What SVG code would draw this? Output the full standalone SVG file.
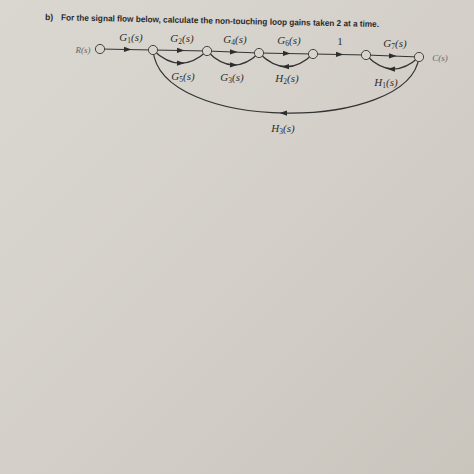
<svg xmlns="http://www.w3.org/2000/svg" width="474" height="474" viewBox="0 0 474 474">
<defs>
<linearGradient id="bg" x1="0" y1="0" x2="1" y2="1">
<stop offset="0" stop-color="#dad7d1"/>
<stop offset="0.5" stop-color="#d4d0c9"/>
<stop offset="1" stop-color="#c9c4bc"/>
</linearGradient>
<path id="ah" d="M-4,-2.6 L3.5,0 L-4,2.6 z" fill="#2e2e2e"/>
</defs>
<style>
.e{fill:none;stroke:#333;stroke-width:1.2}
.n{fill:#d8d4cd;stroke:#444;stroke-width:1}
.l{font-family:"Liberation Serif",serif;font-style:italic;font-size:11px;fill:#2e2e2e;text-anchor:middle}
.io{font-family:"Liberation Serif",serif;font-style:italic;font-size:9px;fill:#666;text-anchor:middle}
.t{font-family:"Liberation Sans",sans-serif;font-weight:bold;font-size:8.6px;fill:#2a2a2a}
.sb{font-style:normal;font-size:7.5px}
</style>
<rect width="474" height="474" fill="url(#bg)"/>
<g transform="rotate(1.2 45 20)">
<text class="t" x="45" y="20">b)</text>
<text class="t" x="61" y="20" textLength="318" lengthAdjust="spacingAndGlyphs">For the signal flow below, calculate the non-touching loop gains taken 2 at a time.</text>
</g>
<g id="connectors">
<path class="e" d="M100,49 L153,50 L207,51 L259,53 L313,54 L366,55 L419,57"/>
<path class="e" d="M153,50 Q180,76 207,51"/>
<path class="e" d="M207,51 Q233,78 259,53"/>
<path class="e" d="M313,54 Q286,80 259,53"/>
<path class="e" d="M419,57 Q392,82 366,55"/>
<path class="e" d="M419,57 C410,133 160,133 153,50"/>
<use href="#ah" transform="translate(128,49.5) rotate(1.1)"/>
<use href="#ah" transform="translate(181,50.5) rotate(1.1)"/>
<use href="#ah" transform="translate(234,52) rotate(2)"/>
<use href="#ah" transform="translate(287,53.5) rotate(1.1)"/>
<use href="#ah" transform="translate(340,54.5) rotate(1.1)"/>
<use href="#ah" transform="translate(393,56) rotate(2)"/>
<use href="#ah" transform="translate(181,63.2) rotate(1)"/>
<use href="#ah" transform="translate(234,65) rotate(2)"/>
<use href="#ah" transform="translate(285,66.7) rotate(180)"/>
<use href="#ah" transform="translate(391,69) rotate(182)"/>
<use href="#ah" transform="translate(283,113.1) rotate(180)"/>
</g>
<g id="n1"><circle class="n" cx="100" cy="49" r="4.6"/><text class="io" x="83" y="52.5">R(s)</text></g>
<g id="n2"><circle class="n" cx="153" cy="50" r="4.6"/></g>
<g id="n3"><circle class="n" cx="207" cy="51" r="4.6"/></g>
<g id="n4"><circle class="n" cx="259" cy="53" r="4.6"/></g>
<g id="n5"><circle class="n" cx="313" cy="54" r="4.6"/></g>
<g id="n6"><circle class="n" cx="366" cy="55" r="4.6"/></g>
<g id="n7"><circle class="n" cx="419" cy="57" r="4.6"/><text class="io" x="440" y="61">C(s)</text></g>
<g id="labels">
<text class="l" x="131" y="41">G<tspan class="sb" dy="2">1</tspan><tspan dy="-2">(s)</tspan></text>
<text class="l" x="182" y="42">G<tspan class="sb" dy="2">2</tspan><tspan dy="-2">(s)</tspan></text>
<text class="l" x="235" y="42.5">G<tspan class="sb" dy="2">4</tspan><tspan dy="-2">(s)</tspan></text>
<text class="l" x="289" y="44">G<tspan class="sb" dy="2">6</tspan><tspan dy="-2">(s)</tspan></text>
<text class="l" x="340" y="45" style="font-style:normal">1</text>
<text class="l" x="395" y="47">G<tspan class="sb" dy="2">7</tspan><tspan dy="-2">(s)</tspan></text>
<text class="l" x="183" y="80">G<tspan class="sb" dy="2">5</tspan><tspan dy="-2">(s)</tspan></text>
<text class="l" x="232" y="81">G<tspan class="sb" dy="2">3</tspan><tspan dy="-2">(s)</tspan></text>
<text class="l" x="287" y="82">H<tspan class="sb" dy="2">2</tspan><tspan dy="-2">(s)</tspan></text>
<text class="l" x="386" y="86">H<tspan class="sb" dy="2">1</tspan><tspan dy="-2">(s)</tspan></text>
<text class="l" x="283" y="132">H<tspan class="sb" dy="2">3</tspan><tspan dy="-2">(s)</tspan></text>
</g>
</svg>
